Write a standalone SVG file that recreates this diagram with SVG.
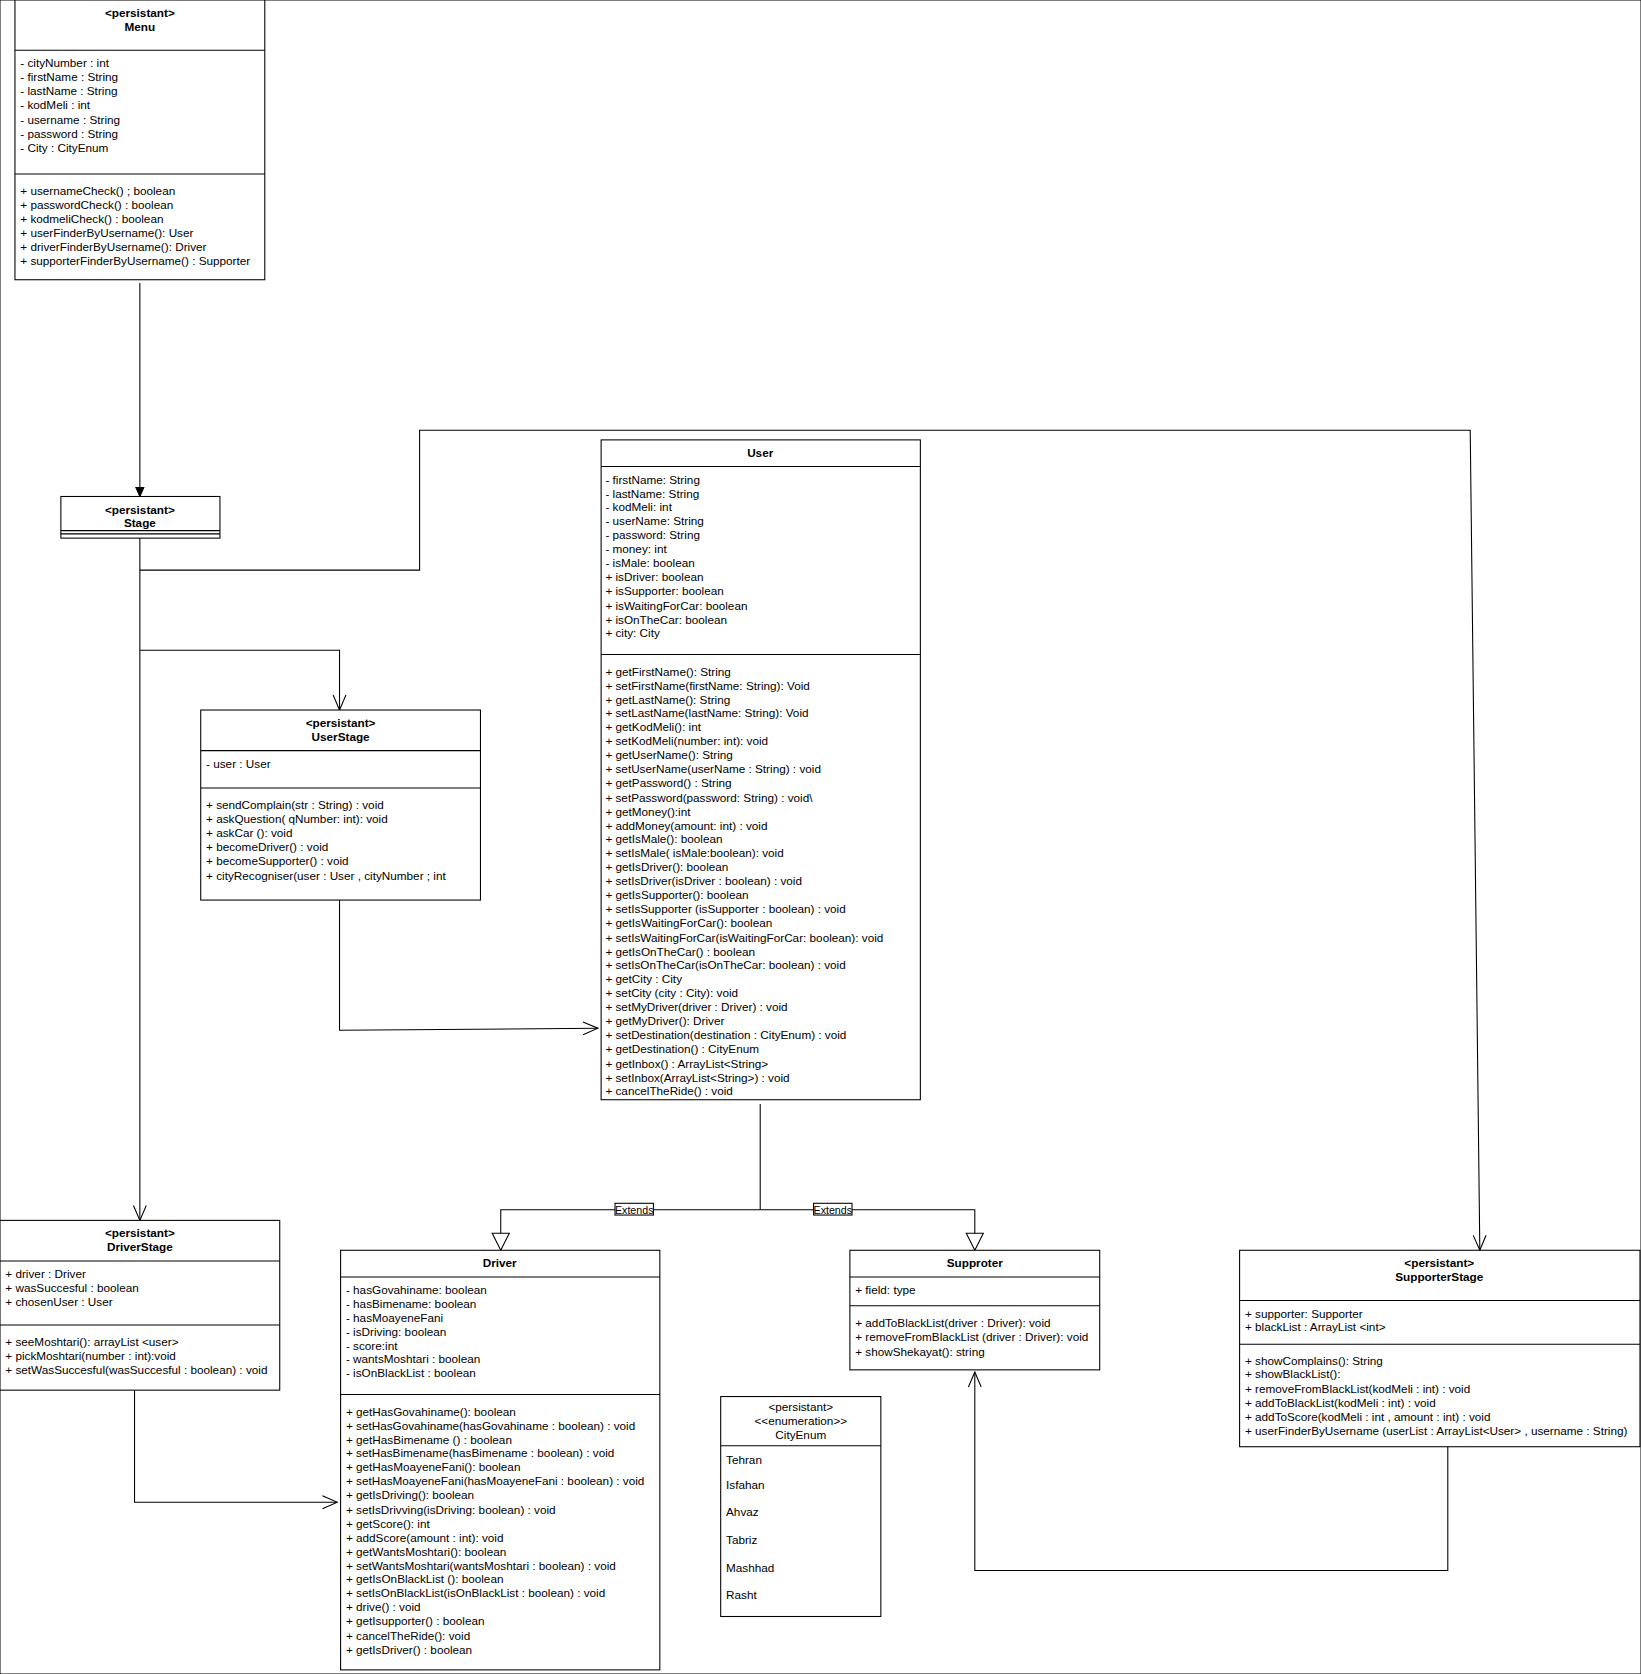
<svg xmlns="http://www.w3.org/2000/svg" width="1641" height="1674" viewBox="0 0 1641 1674">
<style>
text{font-family:"Liberation Sans",Arial,sans-serif;font-size:11px;fill:#000}
.t{font-weight:bold;text-anchor:middle}
.c{text-anchor:middle}
rect,line.d{fill:#fff;stroke:#000;stroke-width:1}
line.d{stroke:#000}
.e path,.e polyline{fill:none;stroke:#000;stroke-width:1}
.lbl{font-size:10px;text-anchor:middle}
</style>
<defs>
<marker id="open" markerUnits="userSpaceOnUse" markerWidth="16" markerHeight="16" viewBox="0 0 16 16" refX="15" refY="8" orient="auto"><path d="M1,2 L15,8 L1,14" fill="none" stroke="#000"/></marker>
<marker id="fill" markerUnits="userSpaceOnUse" markerWidth="10" markerHeight="10" viewBox="0 0 10 10" refX="9" refY="5" orient="auto"><path d="M0,1 L9,5 L0,9 Z" fill="#000" stroke="#000"/></marker>
<marker id="tri" markerUnits="userSpaceOnUse" markerWidth="18" markerHeight="18" viewBox="0 0 18 18" refX="17" refY="9" orient="auto"><path d="M1,1 L17,9 L1,17 Z" fill="#fff" stroke="#000"/></marker>
</defs>
<rect x="0" y="0" width="1641" height="1674" fill="#fff" stroke="none"/>
<g transform="scale(1.0677)">
<g class="e" id="connectors">
<path d="M131,265 L131,465" marker-end="url(#fill)"/>
<path d="M131,500 L131,1143" marker-end="url(#open)"/>
<path d="M131,609 L318,609 L318,665" marker-end="url(#open)"/>
<path d="M131,534 L393,534 L393,403 L1377,403 L1386,1171" marker-end="url(#open)"/>
<path d="M318,843 L318,965 L560,963" marker-end="url(#open)"/>
<path d="M712,1034 L712,1133"/>
<path d="M712,1133 L469,1133 L469,1171" marker-end="url(#tri)"/>
<path d="M712,1133 L913,1133 L913,1171" marker-end="url(#tri)"/>
<path d="M126,1302 L126,1407 L316,1407" marker-end="url(#open)"/>
<path d="M1356,1355 L1356,1471 L913,1471 L913,1285" marker-end="url(#open)"/>
<rect x="576" y="1127" width="36" height="11" stroke="none"/>
<text class="lbl" x="594" y="1137">Extends</text>
<rect x="762" y="1127" width="36" height="11" stroke="none"/>
<text class="lbl" x="780" y="1137">Extends</text>
</g>
<g id="menu">
<rect x="14" y="0" width="234" height="262"/>
<line class="d" x1="14" y1="47" x2="248" y2="47"/>
<line class="d" x1="14" y1="163" x2="248" y2="163"/>
<text class="t" x="131" y="16">&lt;persistant&gt;</text>
<text class="t" x="131" y="29">Menu</text>
<text x="19" y="63">- cityNumber : int</text>
<text x="19" y="76">- firstName : String</text>
<text x="19" y="89">- lastName : String</text>
<text x="19" y="102">- kodMeli : int</text>
<text x="19" y="116">- username : String</text>
<text x="19" y="129">- password : String</text>
<text x="19" y="142">- City : CityEnum</text>
<text x="19" y="183">+ usernameCheck() ; boolean</text>
<text x="19" y="196">+ passwordCheck() : boolean</text>
<text x="19" y="209">+ kodmeliCheck() : boolean</text>
<text x="19" y="222">+ userFinderByUsername(): User</text>
<text x="19" y="235">+ driverFinderByUsername(): Driver</text>
<text x="19" y="248">+ supporterFinderByUsername() : Supporter</text>
</g>
<g id="stage">
<rect x="57" y="465" width="149" height="39"/>
<line class="d" x1="57" y1="497" x2="206" y2="497"/>
<line class="d" x1="57" y1="500" x2="206" y2="500"/>
<text class="t" x="131" y="481">&lt;persistant&gt;</text>
<text class="t" x="131" y="494">Stage</text>
</g>
<g id="userstage">
<rect x="188" y="665" width="262" height="178"/>
<line class="d" x1="188" y1="703" x2="450" y2="703"/>
<line class="d" x1="188" y1="738" x2="450" y2="738"/>
<text class="t" x="319" y="681">&lt;persistant&gt;</text>
<text class="t" x="319" y="694">UserStage</text>
<text x="193" y="719">- user : User</text>
<text x="193" y="758">+ sendComplain(str : String) : void</text>
<text x="193" y="771">+ askQuestion( qNumber: int): void</text>
<text x="193" y="784">+ askCar (): void</text>
<text x="193" y="797">+ becomeDriver() : void</text>
<text x="193" y="810">+ becomeSupporter() : void</text>
<text x="193" y="824">+ cityRecogniser(user : User , cityNumber ;  int</text>
</g>
<g id="user">
<rect x="563" y="412" width="299" height="618"/>
<line class="d" x1="563" y1="437" x2="862" y2="437"/>
<line class="d" x1="563" y1="613" x2="862" y2="613"/>
<text class="t" x="712" y="428">User</text>
<text x="567" y="453">- firstName: String</text>
<text x="567" y="466">- lastName: String</text>
<text x="567" y="479">- kodMeli: int</text>
<text x="567" y="492">- userName: String</text>
<text x="567" y="505">- password: String</text>
<text x="567" y="518">- money: int</text>
<text x="567" y="531">- isMale: boolean</text>
<text x="567" y="544">+ isDriver: boolean</text>
<text x="567" y="557">+ isSupporter: boolean</text>
<text x="567" y="571">+ isWaitingForCar: boolean</text>
<text x="567" y="584">+ isOnTheCar: boolean</text>
<text x="567" y="597">+ city: City</text>
<text x="567" y="633">+ getFirstName(): String</text>
<text x="567" y="646">+ setFirstName(firstName: String): Void</text>
<text x="567" y="659">+ getLastName(): String</text>
<text x="567" y="672">+ setLastName(lastName: String): Void</text>
<text x="567" y="685">+ getKodMeli(): int</text>
<text x="567" y="698">+ setKodMeli(number: int): void</text>
<text x="567" y="711">+ getUserName(): String</text>
<text x="567" y="724">+ setUserName(userName : String) : void</text>
<text x="567" y="737">+ getPassword() : String</text>
<text x="567" y="751">+ setPassword(password: String) : void\</text>
<text x="567" y="764">+ getMoney():int</text>
<text x="567" y="777">+ addMoney(amount: int) : void</text>
<text x="567" y="790">+ getIsMale(): boolean</text>
<text x="567" y="803">+ setIsMale( isMale:boolean): void</text>
<text x="567" y="816">+ getIsDriver(): boolean</text>
<text x="567" y="829">+ setIsDriver(isDriver : boolean) : void</text>
<text x="567" y="842">+ getIsSupporter(): boolean</text>
<text x="567" y="855">+ setIsSupporter (isSupporter : boolean) : void</text>
<text x="567" y="868">+ getIsWaitingForCar(): boolean</text>
<text x="567" y="882">+ setIsWaitingForCar(isWaitingForCar: boolean): void</text>
<text x="567" y="895">+ getIsOnTheCar() : boolean</text>
<text x="567" y="908">+ setIsOnTheCar(isOnTheCar: boolean) : void</text>
<text x="567" y="921">+ getCity : City</text>
<text x="567" y="934">+ setCity (city : City): void</text>
<text x="567" y="947">+ setMyDriver(driver : Driver) : void</text>
<text x="567" y="960">+ getMyDriver(): Driver</text>
<text x="567" y="973">+ setDestination(destination : CityEnum) : void</text>
<text x="567" y="986">+ getDestination() : CityEnum</text>
<text x="567" y="1000">+ getInbox() : ArrayList&lt;String&gt;</text>
<text x="567" y="1013">+ setInbox(ArrayList&lt;String&gt;) : void</text>
<text x="567" y="1026">+ cancelTheRide() : void</text>
</g>
<g id="driverstage">
<rect x="0" y="1143" width="262" height="159"/>
<line class="d" x1="0" y1="1181" x2="262" y2="1181"/>
<line class="d" x1="0" y1="1241" x2="262" y2="1241"/>
<text class="t" x="131" y="1159">&lt;persistant&gt;</text>
<text class="t" x="131" y="1172">DriverStage</text>
<text x="5" y="1197">+ driver : Driver</text>
<text x="5" y="1210">+ wasSuccesful : boolean</text>
<text x="5" y="1223">+ chosenUser : User</text>
<text x="5" y="1261">+ seeMoshtari(): arrayList &lt;user&gt;</text>
<text x="5" y="1274">+ pickMoshtari(number : int):void</text>
<text x="5" y="1287">+ setWasSuccesful(wasSuccesful : boolean) : void</text>
</g>
<g id="driver">
<rect x="319" y="1171" width="299" height="393"/>
<line class="d" x1="319" y1="1196" x2="618" y2="1196"/>
<line class="d" x1="319" y1="1306" x2="618" y2="1306"/>
<text class="t" x="468" y="1187">Driver</text>
<text x="324" y="1212">- hasGovahiname: boolean</text>
<text x="324" y="1225">- hasBimename: boolean</text>
<text x="324" y="1238">- hasMoayeneFani</text>
<text x="324" y="1251">- isDriving: boolean</text>
<text x="324" y="1264">- score:int</text>
<text x="324" y="1277">- wantsMoshtari : boolean</text>
<text x="324" y="1290">- isOnBlackList : boolean</text>
<text x="324" y="1326">+ getHasGovahiname(): boolean</text>
<text x="324" y="1339">+ setHasGovahiname(hasGovahiname : boolean) : void</text>
<text x="324" y="1352">+ getHasBimename () : boolean</text>
<text x="324" y="1365">+ setHasBimename(hasBimename : boolean) : void</text>
<text x="324" y="1378">+ getHasMoayeneFani(): boolean</text>
<text x="324" y="1391">+ setHasMoayeneFani(hasMoayeneFani : boolean) : void</text>
<text x="324" y="1404">+ getIsDriving(): boolean</text>
<text x="324" y="1418">+ setIsDrivving(isDriving: boolean) : void</text>
<text x="324" y="1431">+ getScore(): int</text>
<text x="324" y="1444">+ addScore(amount : int): void</text>
<text x="324" y="1457">+ getWantsMoshtari(): boolean</text>
<text x="324" y="1470">+ setWantsMoshtari(wantsMoshtari : boolean) : void</text>
<text x="324" y="1483">+ getIsOnBlackList (): boolean</text>
<text x="324" y="1496">+ setIsOnBlackList(isOnBlackList : boolean) : void</text>
<text x="324" y="1509">+ drive() : void</text>
<text x="324" y="1522">+ getIsupporter() : boolean</text>
<text x="324" y="1536">+ cancelTheRide(): void</text>
<text x="324" y="1549">+ getIsDriver() : boolean</text>
</g>
<g id="supproter">
<rect x="796" y="1171" width="234" height="112"/>
<line class="d" x1="796" y1="1196" x2="1030" y2="1196"/>
<line class="d" x1="796" y1="1223" x2="1030" y2="1223"/>
<text class="t" x="913" y="1187">Supproter</text>
<text x="801" y="1212">+ field: type</text>
<text x="801" y="1243">+ addToBlackList(driver : Driver): void</text>
<text x="801" y="1256">+ removeFromBlackList (driver : Driver): void</text>
<text x="801" y="1270">+ showShekayat(): string</text>
</g>
<g id="cityenum">
<rect x="675" y="1308" width="150" height="206"/>
<line class="d" x1="675" y1="1354" x2="825" y2="1354"/>
<text class="c" x="750" y="1322">&lt;persistant&gt;</text>
<text class="c" x="750" y="1335">&lt;&lt;enumeration&gt;&gt;</text>
<text class="c" x="750" y="1348">CityEnum</text>
<text x="680" y="1371">Tehran</text>
<text x="680" y="1395">Isfahan</text>
<text x="680" y="1420">Ahvaz</text>
<text x="680" y="1446">Tabriz</text>
<text x="680" y="1472">Mashhad</text>
<text x="680" y="1498">Rasht</text>
</g>
<g id="supporterstage">
<rect x="1161" y="1171" width="375" height="184"/>
<line class="d" x1="1161" y1="1218" x2="1536" y2="1218"/>
<line class="d" x1="1161" y1="1259" x2="1536" y2="1259"/>
<text class="t" x="1348" y="1187">&lt;persistant&gt;</text>
<text class="t" x="1348" y="1200">SupporterStage</text>
<text x="1166" y="1234">+ supporter: Supporter</text>
<text x="1166" y="1247">+ blackList : ArrayList &lt;int&gt;</text>
<text x="1166" y="1278">+ showComplains(): String</text>
<text x="1166" y="1291">+ showBlackList():</text>
<text x="1166" y="1305">+ removeFromBlackList(kodMeli : int) : void</text>
<text x="1166" y="1318">+ addToBlackList(kodMeli : int) : void</text>
<text x="1166" y="1331">+ addToScore(kodMeli : int , amount : int) : void</text>
<text x="1166" y="1344">+ userFinderByUsername (userList : ArrayList&lt;User&gt; , username : String)</text>
</g>
</g>
</svg>
